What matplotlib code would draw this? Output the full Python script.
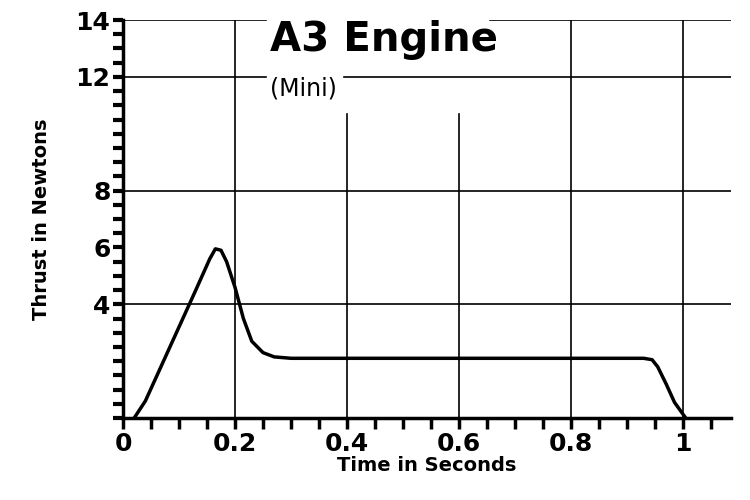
import matplotlib
matplotlib.use("Agg")
import matplotlib.pyplot as plt
import numpy as np

time_s = [0.02, 0.04, 0.07, 0.10, 0.13, 0.155, 0.165, 0.175, 0.185, 0.20, 0.215, 0.23, 0.25, 0.27, 0.30, 0.50, 0.70, 0.93, 0.945, 0.955, 0.97, 0.985, 1.005]
thrust_n = [0.0, 0.6, 1.9, 3.2, 4.5, 5.6, 5.95, 5.9, 5.5, 4.6, 3.5, 2.7, 2.3, 2.15, 2.1, 2.1, 2.1, 2.1, 2.05, 1.8, 1.2, 0.55, 0.0]
y_ticks = [4, 6, 8, 12, 14]
x_ticks = [0, 0.2, 0.4, 0.6, 0.8, 1.0]
x_labels = ["0", "0.2", "0.4", "0.6", "0.8", "1"]

fig = plt.figure(figsize=(7.5, 5), dpi=100)
ax = fig.add_axes([0.164, 0.164, 0.81, 0.796])
ax.set_xlim(0, 1.085)
ax.set_ylim(0, 14)

gk = dict(color="black", lw=1.2, zorder=1)
ax.axhline(4, **gk); ax.axhline(8, **gk)
ax.plot([0, 0.255], [12, 12], **gk); ax.plot([0.395, 1.085], [12, 12], **gk)
ax.plot([0, 0.255], [14, 14], **gk); ax.plot([0.655, 1.085], [14, 14], **gk)
for xv in [0.2, 0.8, 1.0]:
    ax.plot([xv, xv], [0, 14], **gk)
for xv in [0.4, 0.6]:
    ax.plot([xv, xv], [0, 10.7], **gk)

ax.plot(time_s, thrust_n, color="black", lw=2.5, zorder=3, solid_capstyle="round")

for s in ["top", "right"]:
    ax.spines[s].set_visible(False)
for s in ["left", "bottom"]:
    ax.spines[s].set_linewidth(2.5)

ax.set_yticks(y_ticks)
ax.set_yticklabels([str(v) for v in y_ticks], fontsize=18, fontweight="bold")
ax.set_yticks(np.arange(0, 14.01, 0.5), minor=True)
ax.set_xticks(x_ticks)
ax.set_xticklabels(x_labels, fontsize=18, fontweight="bold")
ax.set_xticks(np.arange(0, 1.086, 0.05), minor=True)
ax.tick_params(axis="y", which="both", direction="out", length=7, width=3, pad=2)
ax.tick_params(axis="x", which="both", direction="out", length=8, width=2.5, pad=2)

ax.set_xlabel("Time in Seconds", fontsize=14, fontweight="bold", labelpad=0)
ax.set_ylabel("Thrust in Newtons", fontsize=14, fontweight="bold", labelpad=18)

ax.text(0.262, 13.3, "A3 Engine", fontsize=29, fontweight="bold", ha="left", va="center")
ax.text(0.262, 11.6, "(Mini)", fontsize=17, ha="left", va="center")

fig.savefig("out.png", dpi=100)
